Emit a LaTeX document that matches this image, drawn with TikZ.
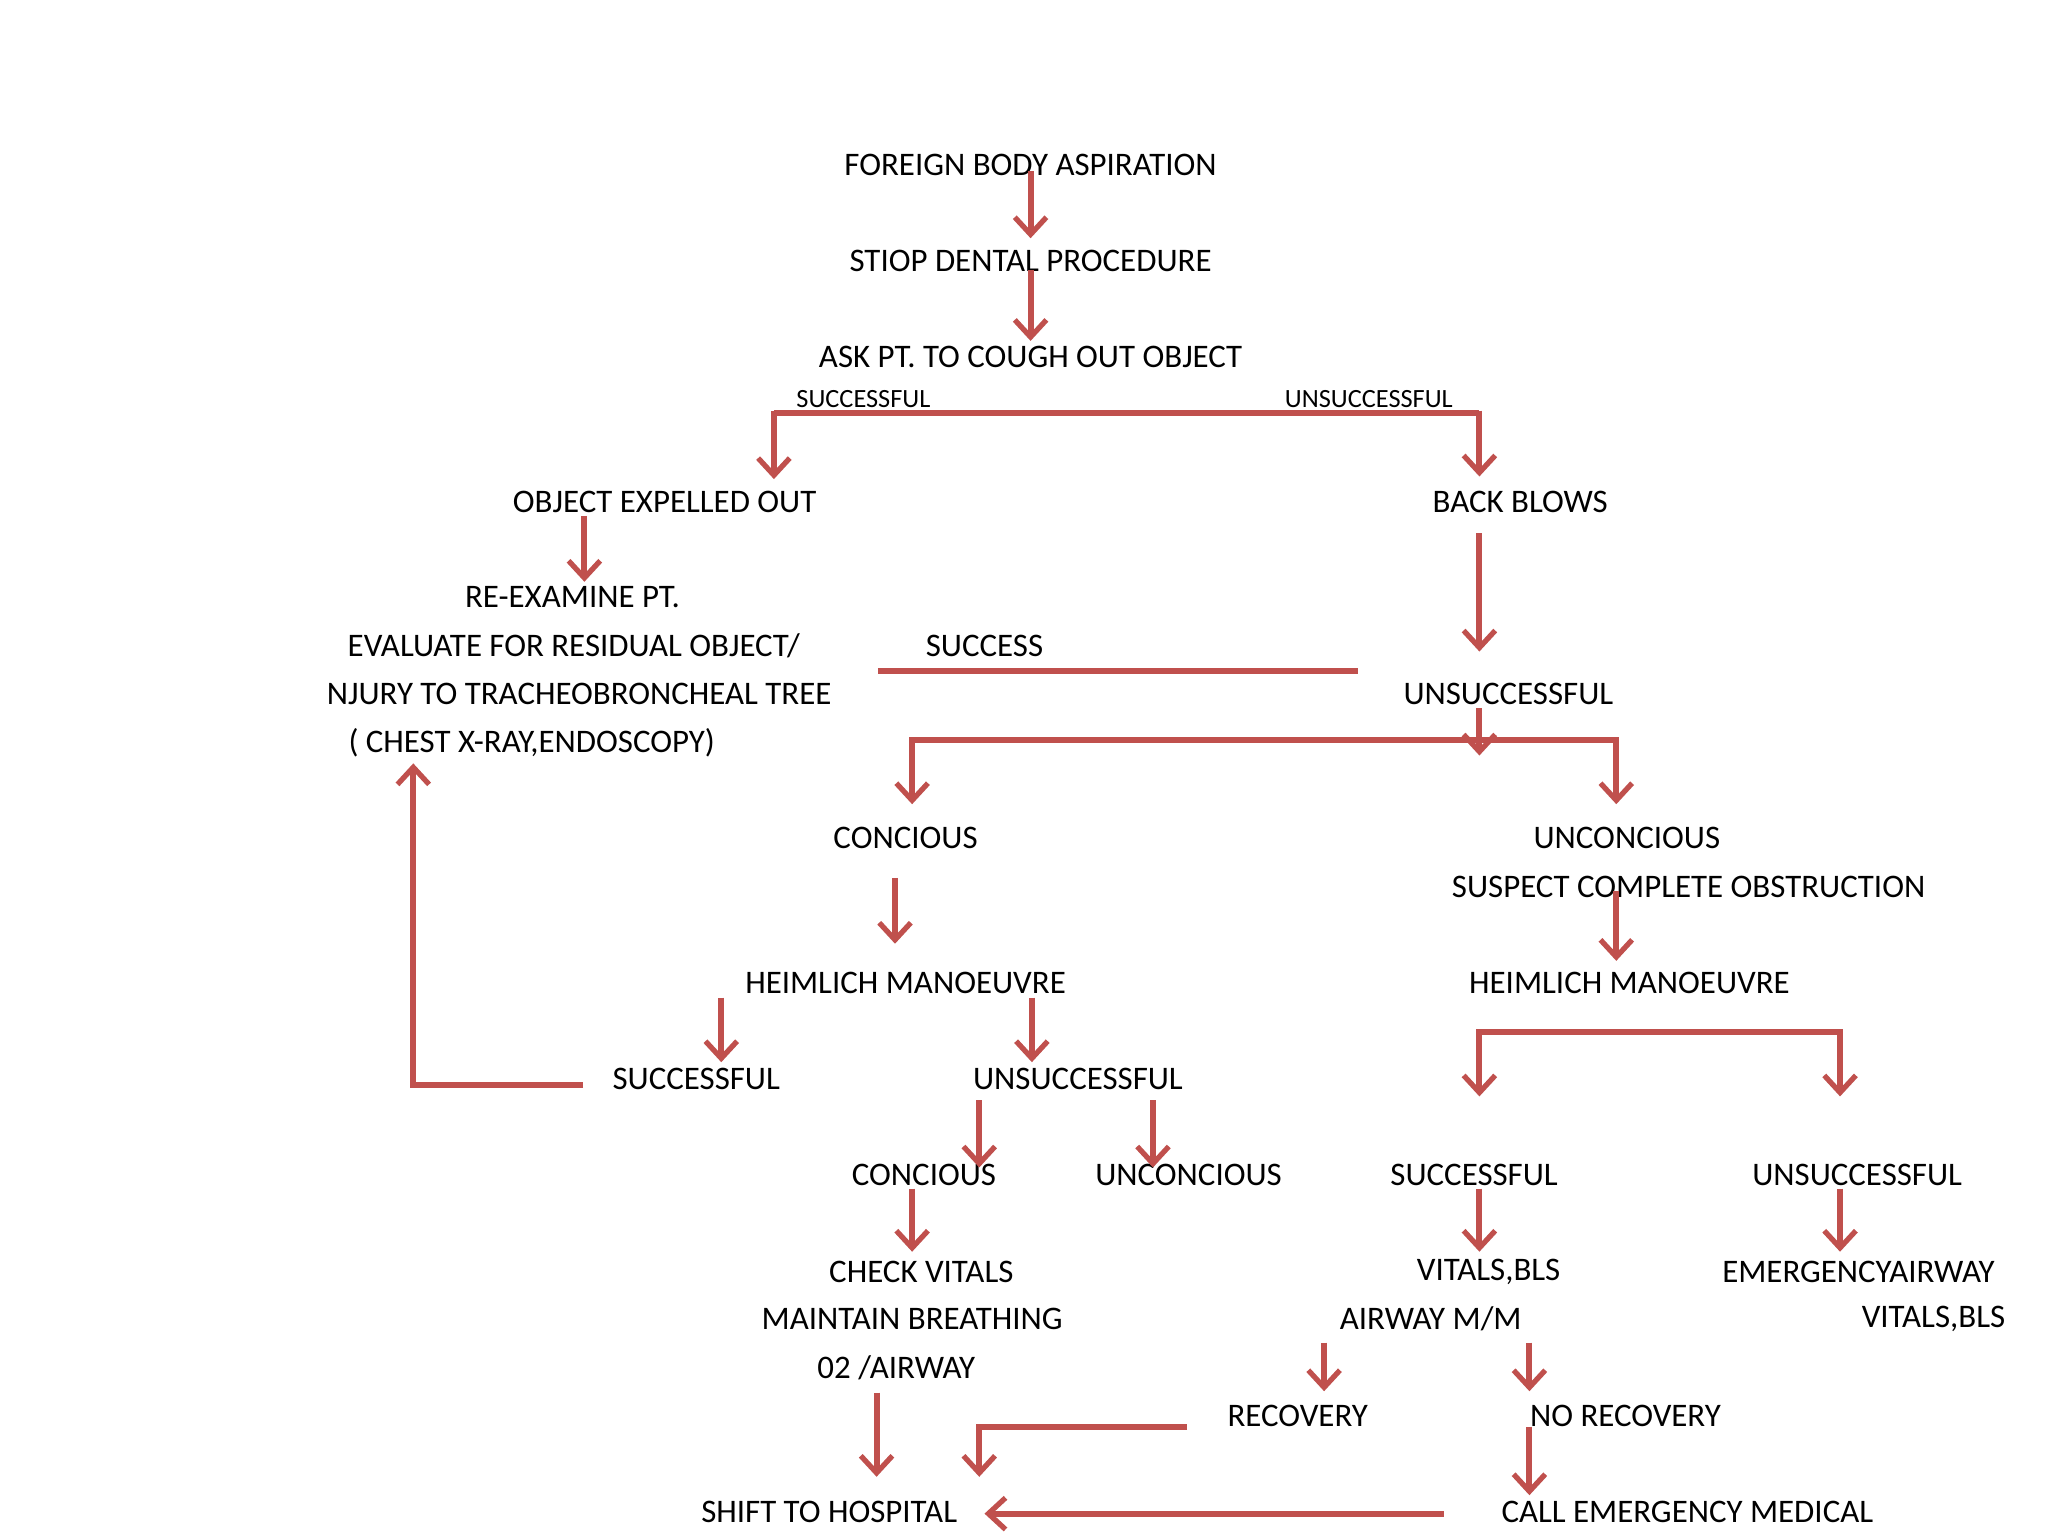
\documentclass[tikz,border=0pt]{standalone}
\usepackage{fontspec}
\setmainfont{Carlito}
\usetikzlibrary{arrows.meta}
\definecolor{ar}{HTML}{C0504D}
\begin{document}
\begin{tikzpicture}[x=1pt,y=-1pt,
 t/.style={font=\fontsize{25}{28}\selectfont,inner sep=0pt,anchor=center},
 s/.style={font=\fontsize{20}{22}\selectfont,inner sep=0pt,anchor=center},
 ln/.style={draw=ar,line width=4.5pt},
 ah/.style={ln,-{Straight Barb[length=13pt,width=24pt,line width=4pt]}}]
\useasboundingbox (0,0) rectangle (1556,1170);
\fill[white] (0,0) rectangle (1556,1170);
\node[t] (fba) at (783,125) {FOREIGN BODY ASPIRATION};
\node[t] (sdp) at (783,198) {STIOP DENTAL PROCEDURE};
\node[t] (ask) at (783,271) {ASK PT. TO COUGH OUT OBJECT};
\node[s] (s1) at (656,303) {SUCCESSFUL};
\node[s] (u1) at (1040,303) {UNSUCCESSFUL};
\node[t] (oeo) at (505,381) {OBJECT EXPELLED OUT};
\node[t] (bb) at (1155,381) {BACK BLOWS};
\node[t] (re1) at (435,454) {RE-EXAMINE PT.};
\node[t] (re2) at (436,491) {EVALUATE FOR RESIDUAL OBJECT/};
\node[t] (re3) at (440,527) {NJURY TO TRACHEOBRONCHEAL TREE};
\node[t] (re4) at (404,564) {( CHEST X-RAY,ENDOSCOPY)};
\node[t] (suc) at (748,491) {SUCCESS};
\node[t] (uns) at (1146,527) {UNSUCCESSFUL};
\node[t] (con) at (688,637) {CONCIOUS};
\node[t] (ucon) at (1236,637) {UNCONCIOUS};
\node[t] (sco) at (1283,674) {SUSPECT COMPLETE OBSTRUCTION};
\node[t] (hm1) at (688,747) {HEIMLICH MANOEUVRE};
\node[t] (hm2) at (1238,747) {HEIMLICH MANOEUVRE};
\node[t] (s2) at (529,820) {SUCCESSFUL};
\node[t] (u2) at (819,820) {UNSUCCESSFUL};
\node[t] (c2) at (702,893) {CONCIOUS};
\node[t] (uc2) at (903,893) {UNCONCIOUS};
\node[t] (s3) at (1120,893) {SUCCESSFUL};
\node[t] (u3) at (1411,893) {UNSUCCESSFUL};
\node[t] (cv1) at (700,966) {CHECK VITALS};
\node[t] (cv2) at (693,1002) {MAINTAIN BREATHING};
\node[t] (cv3) at (681,1039) {02 /AIRWAY};
\node[t] (vb1) at (1131,966) {VITALS,BLS};
\node[t] (vb2) at (1087,1002) {AIRWAY M/M};
\node[t] (ea1) at (1412,966) {EMERGENCYAIRWAY};
\node[t] (ea2) at (1469,1002) {VITALS,BLS};
\node[t] (rec) at (986,1076) {RECOVERY};
\node[t] (nrec) at (1235,1076) {NO RECOVERY};
\node[t] (sth) at (630,1149) {SHIFT TO HOSPITAL};
\node[t] (cem) at (1282,1149) {CALL EMERGENCY MEDICAL};
% arrows
\draw[ah] (783,130) -- (783,181);
\draw[ah] (783,205) -- (783,259);
\draw[ln] (588,314) -- (1124,314);
\draw[ah] (588,312) -- (588,364);
\draw[ah] (1124,312) -- (1124,362);
\draw[ah] (444,392) -- (444,442);
\draw[ah] (1124,405) -- (1124,495);
\draw[ln] (667,510) -- (1032,510);
\draw[ah] (1124,538) -- (1124,574);
\draw[ln] (693,562) -- (1228,562);
\draw[ah] (693,560) -- (693,611);
\draw[ah] (1228,560) -- (1228,611);
\draw[ah] (680,667) -- (680,717);
\draw[ah] (1228,677) -- (1228,730);
\draw[ah] (548,758) -- (548,807);
\draw[ah] (784,758) -- (784,807);
\draw[ah] (443,824) -- (314,824) -- (314,580);
\draw[ah] (744,836) -- (744,887);
\draw[ah] (876,836) -- (876,887);
\draw[ln] (1124,784) -- (1398,784);
\draw[ah] (1124,782) -- (1124,833);
\draw[ah] (1398,782) -- (1398,833);
\draw[ah] (693,903) -- (693,951);
\draw[ah] (1124,903) -- (1124,951);
\draw[ah] (1398,903) -- (1398,951);
\draw[ah] (1006,1020) -- (1006,1057);
\draw[ah] (1162,1020) -- (1162,1057);
\draw[ah] (666,1058) -- (666,1122);
\draw[ah] (902,1084) -- (744,1084) -- (744,1122);
\draw[ah] (1162,1084) -- (1162,1136);
\draw[ah] (1097,1150) -- (748,1150);
\end{tikzpicture}
\end{document}
